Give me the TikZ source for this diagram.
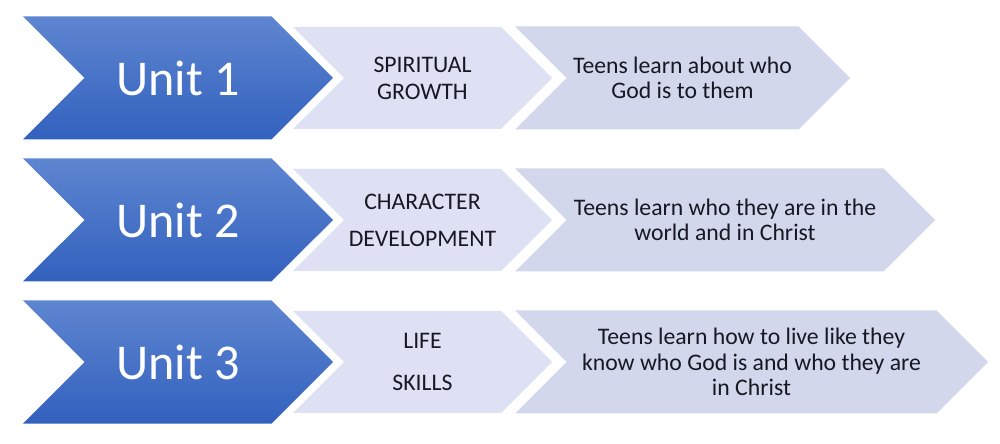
\documentclass[tikz,border=0pt]{standalone}
\usepackage{fontspec}
\setmainfont{Carlito}
\usetikzlibrary{shapes.symbols}
\definecolor{unittop}{RGB}{94,133,208}
\definecolor{unitbot}{RGB}{50,97,190}
\definecolor{topicfill}{RGB}{221,225,243}
\definecolor{goalfill}{RGB}{211,215,236}
\definecolor{inktext}{RGB}{24,24,36}
\begin{document}
\begin{tikzpicture}
  [every node/.style={signal,signal from=west,signal to=east,signal pointer angle=90,inner sep=0pt,align=center},
   unit/.style={top color=unittop,bottom color=unitbot,text=white,minimum width=6.2cm,minimum height=2.46cm,font=\fontsize{28.5}{34}\selectfont},
   topic/.style={fill=topicfill,text=inktext,minimum width=5.18cm,minimum height=2.04cm,font=\fontsize{13.5}{15.4}\selectfont},
   goal/.style={fill=goalfill,text=inktext,minimum height=2.06cm,font=\fontsize{13.5}{14.6}\selectfont}]
  \useasboundingbox (0,0) rectangle (20,8.86);
  \foreach \n/\y in {1/7.30,2/4.46,3/1.62}
    \node[unit] (u\n) at (3.56,\y) {Unit \n};
  \node[topic] (t1) at (8.45,7.30) {SPIRITUAL\\GROWTH};
  \node[topic] (t2) at (8.45,4.46) {CHARACTER\\[5.6pt]DEVELOPMENT};
  \node[topic] (t3) at (8.45,1.62) {LIFE\\[8pt]SKILLS};
  \node[goal,minimum width=6.7cm] (g1) at (13.65,7.30) {Teens learn about who\\God is to them};
  \node[goal,minimum width=8.4cm] (g2) at (14.50,4.46) {Teens learn who they are in the\\world and in Christ};
  \node[goal,minimum width=9.46cm] (g3) at (15.03,1.62) {Teens learn how to live like they\\know who God is and who they are\\in Christ};

\end{tikzpicture}
\end{document}
